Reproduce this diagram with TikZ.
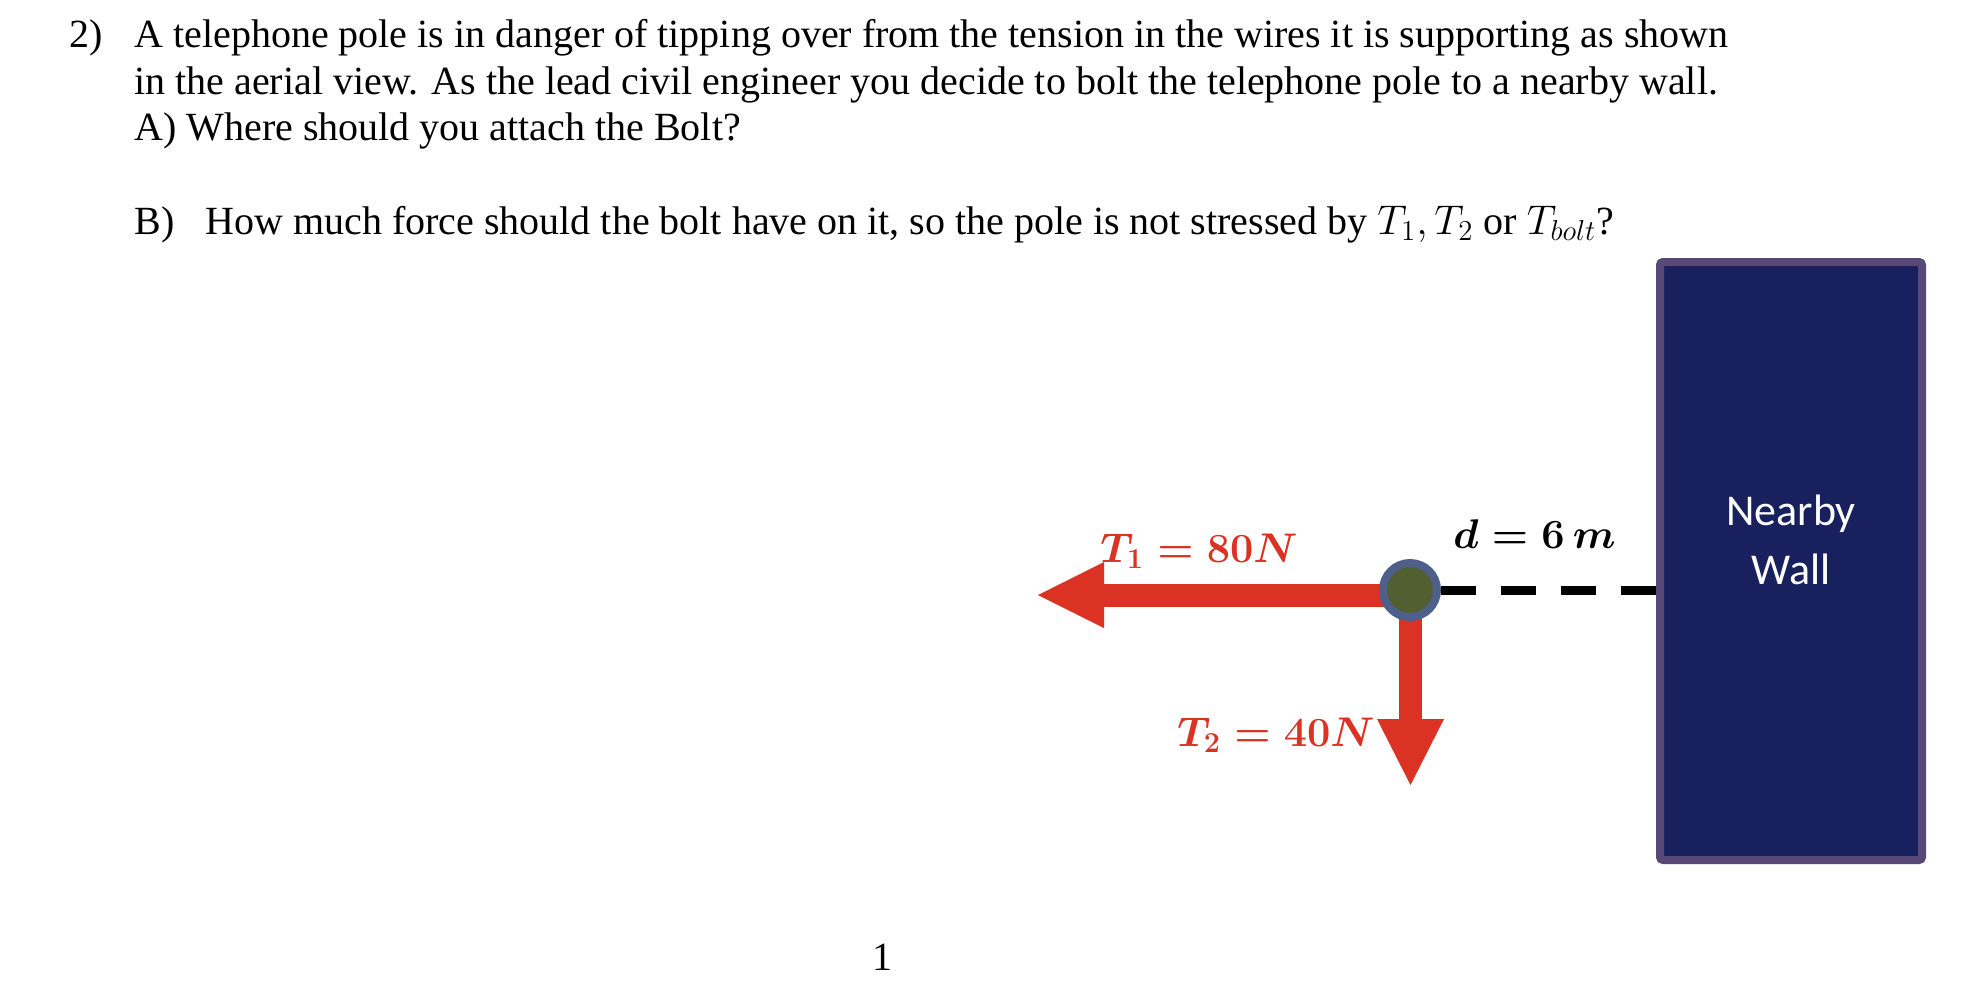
\documentclass[tikz,border=0pt]{standalone}
\usepackage{fontspec}
\setmainfont{Liberation Serif}
\newfontfamily\wallfont{Carlito}
\usetikzlibrary{calc}
\definecolor{redarrow}{RGB}{218,50,35}
\definecolor{wallfill}{RGB}{24,32,94}
\definecolor{wallborder}{RGB}{88,72,120}
\definecolor{polefill}{RGB}{82,95,48}
\definecolor{poleborder}{RGB}{78,96,138}
\begin{document}
\begin{tikzpicture}[x=0.5pt,y=-0.5pt,
  body/.style={anchor=base west, inner sep=0pt, font=\fontsize{20}{24}\selectfont},
  force/.style={draw=redarrow, line width=11.5pt},
  forcehead/.style={fill=redarrow},
  forcelabel/.style={anchor=base west, inner sep=0pt, text=redarrow, font=\fontsize{22}{26}\selectfont\boldmath},
  dimlabel/.style={anchor=base west, inner sep=0pt, text=black, font=\fontsize{22}{26}\selectfont\boldmath},
  dimline/.style={draw=black, line width=4.5pt, dash pattern=on 17.5pt off 12.5pt},
  wallbox/.style={draw=wallborder, fill=wallfill, line width=4pt, rounded corners=1.5pt, minimum width=131pt, minimum height=299pt, inner sep=0pt},
  walltext/.style={text=white, align=center, font=\wallfont\fontsize{22}{29.5}\selectfont, inner sep=0pt},
  pole/.style={circle, draw=poleborder, fill=polefill, line width=4pt, minimum size=27pt, inner sep=0pt}
]
\useasboundingbox (0,0) rectangle (1970,982);
\fill[white] (0,0) rectangle (1970,982);

% question text
\node[body] (num) at (69,47) {2)};
\node[body] (l1) at (134,47) {A telephone pole is in danger of tipping over from the tension in the wires it is supporting as shown};
\node[body] (l2) at (134,94) {in the aerial view. As the lead civil engineer you decide to bolt the telephone pole to a nearby wall.};
\node[body] (l3) at (134,140) {A) Where should you attach the Bolt?};
\node[body] (l4a) at (134,234) {B)};
\node[body] (l4) at (205,234) {How much force should the bolt have on it, so the pole is not stressed by $T_1, T_2$ or $T_{bolt}$?};
\node[body] (page) at (872,970) {1};

% wall
\node[wallbox] (wall) at (1791,561) {};
\node[walltext] (walllabel) at (1791,540) {Nearby\\Wall};

% forces
\coordinate (P) at (1410,590);
\coordinate (h1) at (1104,595);
\coordinate (h2) at (1410.5,719);
\draw[force] (P |- h1) -- (h1);
\fill[forcehead] ($(h1)+(0,-33)$) -- ($(h1)+(-66,0)$) -- ($(h1)+(0,33)$) -- cycle;
\draw[force] (h2 |- P) -- (h2);
\fill[forcehead] ($(h2)+(-33.5,0)$) -- ($(h2)+(0,66)$) -- ($(h2)+(33.5,0)$) -- cycle;

% pole
\node[pole] (pole) at (P) {};
\draw[dimline] (pole.east) -- (wall.west |- pole.east);

% labels
\node[forcelabel] (t1) at (1100,562) {$T_1 = 80N$};
\node[forcelabel] (t2) at (1177,746) {$T_2 = 40N$};
\node[dimlabel] (d) at (1453,548) {$d = 6\,m$};
\end{tikzpicture}
\end{document}
